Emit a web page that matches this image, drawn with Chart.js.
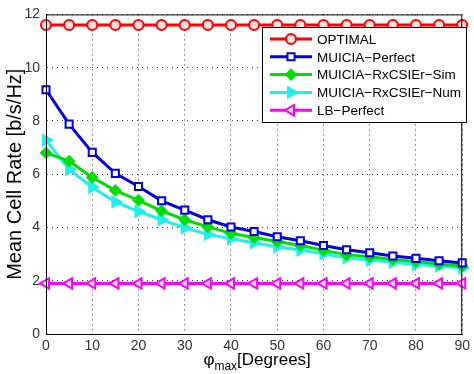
<!DOCTYPE html>
<html>
<head>
<meta charset="utf-8">
<script src="https://cdn.jsdelivr.net/npm/chart.js@4"></script>
<style>
  html, body { margin: 0; padding: 0; background: #fff; }
  #wrap { width: 474px; height: 374px; }
</style>
</head>
<body>
<div id="wrap"><canvas id="lineChart" width="474" height="374"></canvas></div>
<script>
var phiMax = [0,5,10,15,20,25,30,35,40,45,50,55,60,65,70,75,80,85,90];
var optimal = [11.6,11.6,11.6,11.6,11.6,11.6,11.6,11.6,11.6,11.6,11.6,11.6,11.6,11.6,11.6,11.6,11.6,11.6,11.6];
var muiciaPerfect = [9.17,7.88,6.82,6.03,5.54,5.0,4.65,4.29,4.02,3.85,3.65,3.5,3.32,3.16,3.05,2.93,2.84,2.75,2.67];
var muiciaSim = [6.8,6.49,5.88,5.39,5.02,4.62,4.29,4.02,3.78,3.62,3.47,3.32,3.14,2.98,2.9,2.8,2.72,2.63,2.55];
var muiciaNum = [7.28,6.18,5.51,4.96,4.6,4.29,3.99,3.74,3.58,3.43,3.27,3.15,3.01,2.86,2.78,2.69,2.61,2.55,2.48];
var lbPerfect = [1.9,1.9,1.9,1.9,1.9,1.9,1.9,1.9,1.9,1.9,1.9,1.9,1.9,1.9,1.9,1.9,1.9,1.9,1.9];
var xTicks = [0,10,20,30,40,50,60,70,80,90];
var yTicks = [0,2,4,6,8,10,12];

function pts(ys) {
  return phiMax.map(function (x, i) { return { x: x, y: ys[i] }; });
}

var series = [
  { label: 'OPTIMAL', data: optimal, color: '#ff0000', fill: '#ffdddd', style: 'circle', rot: 0, r: 5 },
  { label: 'MUICIA\u2212Perfect', data: muiciaPerfect, color: '#0000e0', fill: '#ffffff', style: 'rect', rot: 0, r: 5 },
  { label: 'MUICIA\u2212RxCSIEr\u2212Sim', data: muiciaSim, color: '#00dd00', fill: '#00dd00', style: 'rectRot', rot: 0, r: 5 },
  { label: 'MUICIA\u2212RxCSIEr\u2212Num', data: muiciaNum, color: '#22eeee', fill: '#22eeee', style: 'triangle', rot: 90, r: 6 },
  { label: 'LB\u2212Perfect', data: lbPerfect, color: '#ff00ff', fill: '#ffddff', style: 'triangle', rot: -90, r: 6 }
];

var font = 'Liberation Sans, Arial, sans-serif';

var extras = {
  id: 'extras',
  afterDraw: function (chart) {
    var ctx = chart.ctx, a = chart.chartArea;
    ctx.save();
    // frame
    ctx.strokeStyle = '#000';
    ctx.lineWidth = 1;
    ctx.setLineDash([]);
    ctx.strokeRect(a.left + 0.5, a.top + 0.5, a.right - a.left - 1, a.bottom - a.top);

    // y title
    ctx.fillStyle = '#000';
    ctx.font = '20px ' + font;
    ctx.textAlign = 'center';
    ctx.textBaseline = 'middle';
    ctx.save();
    ctx.translate(15, (a.top + a.bottom) / 2);
    ctx.rotate(-Math.PI / 2);
    ctx.fillText('Mean Cell Rate [b/s/Hz]', 0, 0);
    ctx.restore();

    // x title with subscript
    ctx.textBaseline = 'alphabetic';
    ctx.textAlign = 'left';
    var phi = '\u03c6', sub = 'max', rest = '[Degrees]';
    ctx.font = '17px ' + font;
    var w1 = ctx.measureText(phi).width;
    var w3 = ctx.measureText(rest).width;
    ctx.font = '12px ' + font;
    var w2 = ctx.measureText(sub).width;
    var total = w1 + w2 + w3;
    var x0 = (a.left + a.right) / 2 - total / 2 + 3;
    var base = 365;
    ctx.font = '17px ' + font;
    ctx.fillText(phi, x0, base);
    ctx.font = '12px ' + font;
    ctx.fillText(sub, x0 + w1, base + 5);
    ctx.font = '17px ' + font;
    ctx.fillText(rest, x0 + w1 + w2, base);

    // legend
    var lx = 262, ly = 27, lw = 204, lh = 95;
    ctx.fillStyle = '#fff';
    ctx.fillRect(lx, ly, lw, lh);
    ctx.strokeStyle = '#000';
    ctx.strokeRect(lx + 0.5, ly + 0.5, lw, lh);
    ctx.font = '13.5px ' + font;
    ctx.textBaseline = 'middle';
    series.forEach(function (s, i) {
      var y = ly + 12 + i * 17.8;
      ctx.strokeStyle = s.color;
      ctx.lineWidth = 3;
      ctx.beginPath();
      ctx.moveTo(lx + 8, y);
      ctx.lineTo(lx + 50, y);
      ctx.stroke();
      ctx.lineWidth = 2;
      ctx.fillStyle = s.fill;
      Chart.helpers.drawPoint(ctx, { pointStyle: s.style, radius: s.r, rotation: s.rot, borderWidth: 2 }, lx + 29, y);
      ctx.fillStyle = '#000';
      ctx.fillText(s.label, lx + 55, y + 1);
    });
    ctx.restore();
  }
};

var lineChart = document.getElementById('lineChart').getContext('2d');
var myLineChart = new Chart(lineChart, {
  type: 'line',
  data: {
    datasets: series.map(function (s) {
      return {
        label: s.label,
        data: pts(s.data),
        borderColor: s.color,
        backgroundColor: s.fill,
        borderWidth: 3,
        pointStyle: s.style,
        pointRotation: s.rot,
        pointRadius: s.r,
        pointBorderWidth: 2,
        pointBorderColor: s.color,
        pointBackgroundColor: s.fill,
        tension: 0,
        clip: false
      };
    })
  },
  options: {
    responsive: false,
    animation: false,
    devicePixelRatio: 1,
    layout: { padding: { top: 7, right: 8, left: 0, bottom: 0 } },
    plugins: { legend: { display: false }, tooltip: { enabled: false } },
    scales: {
      x: {
        type: 'linear',
        min: 0, max: 90,
        afterBuildTicks: function (scale) { scale.ticks = xTicks.map(function (v) { return { value: v }; }); },
        afterFit: function (scale) { scale.height = 40; },
        grid: { color: '#333', lineWidth: 1, drawTicks: false },
        border: { display: true, color: '#000', dash: [1, 4] },
        ticks: { color: '#333', font: { size: 14, family: font }, padding: 4, maxRotation: 0 }
      },
      y: {
        min: 0, max: 12,
        afterBuildTicks: function (scale) { scale.ticks = yTicks.map(function (v) { return { value: v }; }); },
        afterFit: function (scale) { scale.width = 46; },
        grid: { color: '#333', lineWidth: 1, drawTicks: false },
        border: { display: true, color: '#000', dash: [1, 4] },
        ticks: { color: '#333', font: { size: 14, family: font }, padding: 6 }
      }
    }
  },
  plugins: [extras]
});
</script>
</body>
</html>
